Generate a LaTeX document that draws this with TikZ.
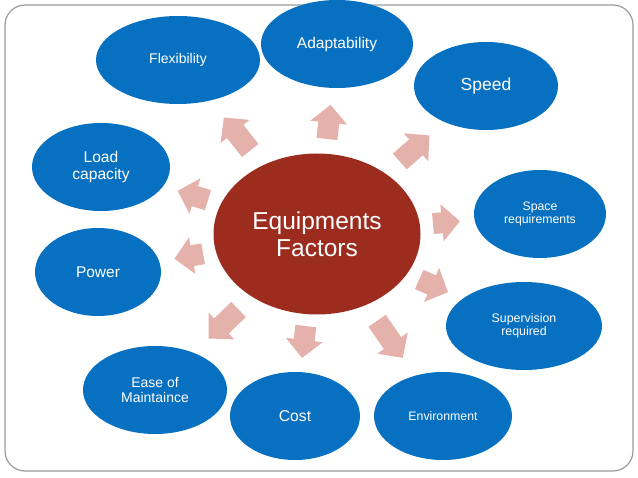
\documentclass[tikz,border=0pt]{standalone}
\usepackage{fontspec}
\setmainfont{Liberation Sans}
\usetikzlibrary{shapes.geometric,arrows.meta,calc}

\definecolor{factorblue}{RGB}{8,112,192}
\definecolor{centrered}{RGB}{155,44,30}
\definecolor{arrowpink}{RGB}{229,177,171}
\definecolor{framegray}{RGB}{155,155,155}

\tikzset{
  factor/.style={ellipse, fill=factorblue, text=white, inner sep=0pt, minimum height=88pt, align=center},
  fatarrow/.style={arrowpink, line width=21pt, -{Triangle[length=18pt,width=36pt]}}
}
\newcommand{\fsz}[2]{\fontsize{#1}{#2}\selectfont}

\begin{document}
\begin{tikzpicture}[x=1pt,y=-1pt]
\useasboundingbox (0,0) rectangle (638,478);
\draw[framegray, line width=1.2pt, rounded corners=20pt] (5,5) rectangle (633,471);
% centre
\node[ellipse, fill=centrered, text=white, inner sep=0pt, minimum width=207pt, minimum height=161pt, align=center, font=\fsz{24.5}{27}] (c) at (317,234) {Equipments\\Factors};
% factors
\node[factor, minimum width=164pt, font=\fsz{14}{15}] (flex) at (178,60) {Flexibility};
\node[factor, minimum width=152pt, font=\fsz{15.5}{17}] (adapt) at (337,44) {Adaptability};
\node[factor, minimum width=144pt, font=\fsz{17.5}{19}] (speed) at (486,86) {Speed};
\node[factor, minimum width=132pt, font=\fsz{12.3}{12.5}] (space) at (540,214) {Space\\requirements};
\node[factor, minimum width=156pt, font=\fsz{12.4}{13.5}] (superv) at (524,326) {Supervision\\required};
\node[factor, minimum width=138pt, font=\fsz{12.3}{13}] (env) at (443,416) {Environment};
\node[factor, minimum width=130pt, font=\fsz{15.7}{17}] (cost) at (295,416) {Cost};
\node[factor, minimum width=144pt, font=\fsz{14}{14.5}] (ease) at (155,390) {Ease of\\Maintaince};
\node[factor, minimum width=126pt, font=\fsz{15.5}{17}] (power) at (98,272) {Power};
\node[factor, minimum width=138pt, font=\fsz{15.6}{16.5}] (load) at (101,167) {Load\\capacity};
% arrows
\draw[fatarrow] ($(c)!0.48!(flex)$) -- ($(c)!0.67!(flex)$);
\draw[fatarrow] ($(c)!0.50!(adapt)$) -- ($(c)!0.68!(adapt)$);
\draw[fatarrow] ($(c)!0.49!(speed)$) -- ($(c)!0.666!(speed)$);
\draw[fatarrow] ($(c)!0.52!(space)$) -- ($(c)!0.641!(space)$);
\draw[fatarrow] ($(c)!0.494!(superv)$) -- ($(c)!0.633!(superv)$);
\draw[fatarrow] ($(c)!0.477!(env)$) -- ($(c)!0.681!(env)$);
\draw[fatarrow] ($(c)!0.506!(cost)$) -- ($(c)!0.681!(cost)$);
\draw[fatarrow] ($(c)!0.484!(ease)$) -- ($(c)!0.67!(ease)$);
\draw[fatarrow] ($(c)!0.52!(power)$) -- ($(c)!0.651!(power)$);
\draw[fatarrow] ($(c)!0.505!(load)$) -- ($(c)!0.645!(load)$);
\end{tikzpicture}
\end{document}
